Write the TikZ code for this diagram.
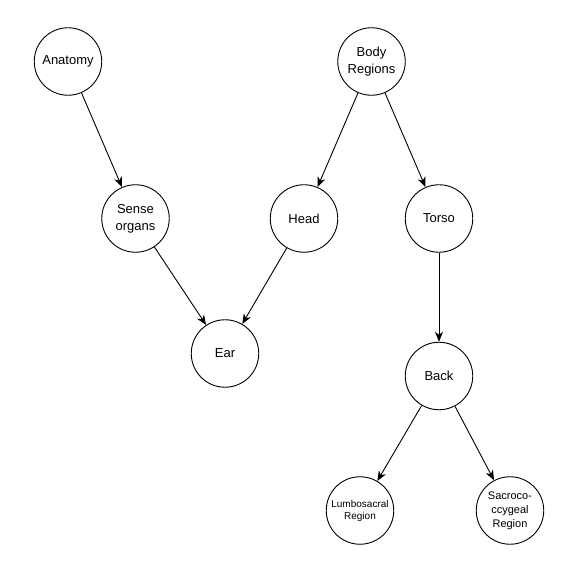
\documentclass[tikz,border=0pt]{standalone}
\usepackage{fontspec}
\setmainfont{Liberation Sans}
\usetikzlibrary{arrows.meta}
\begin{document}
\begin{tikzpicture}[x=1pt,y=-1pt,
  nd/.style={circle,draw,line width=0.9pt,minimum size=67.5pt,inner sep=0pt,align=center,font=\fontsize{13}{17.3}\selectfont},
  small/.style={font=\fontsize{10}{12}\selectfont},
  mid/.style={font=\fontsize{11}{14}\selectfont},
  arr/.style={draw,line width=0.9pt,-{Stealth[length=10pt,width=8pt,inset=3pt]}}]
\useasboundingbox (0,0) rectangle (571,564);
\node[nd] (anat) at (68,61.5) {Anatomy};
\node[nd] (body) at (371.5,61.5) {Body\\Regions};
\node[nd] (sense) at (135.5,218.5) {Sense\\organs};
\node[nd] (head) at (304,218.5) {Head};
\node[nd] (torso) at (439,218.5) {Torso};
\node[nd] (ear) at (225,353.5) {Ear};
\node[nd] (back) at (439,376) {Back};
\node[nd,small] (lumb) at (360,510.5) {Lumbosacral\\Region};
\node[nd,mid] (sacro) at (510,510.5) {Sacroco-\\ccygeal\\Region};
\draw[arr] (anat) -- (sense);
\draw[arr] (body) -- (head);
\draw[arr] (body) -- (torso);
\draw[arr] (sense) -- (ear);
\draw[arr] (head) -- (ear);
\draw[arr] (torso) -- (back);
\draw[arr] (back) -- (lumb);
\draw[arr] (back) -- (sacro);
\end{tikzpicture}
\end{document}
